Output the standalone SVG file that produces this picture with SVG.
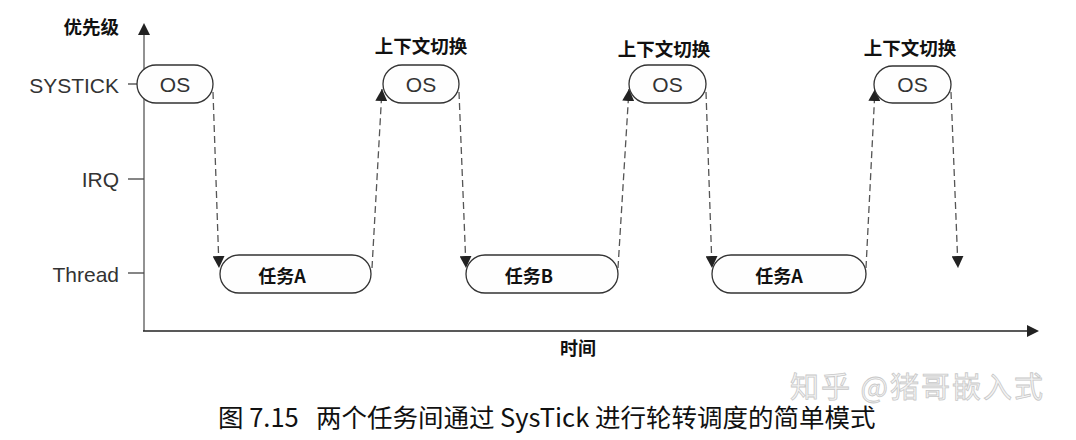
<svg xmlns="http://www.w3.org/2000/svg" width="1076" height="440" viewBox="0 0 1076 440">
<style>
.lbl{font-family:"Liberation Sans",Arial,sans-serif;font-size:21px;fill:#333;}
.cjkb{font-family:"Noto Sans CJK SC","Noto Sans",sans-serif;font-weight:bold;fill:#111;}
.box{fill:#fefefe;stroke:#333;stroke-width:1.3;}
.os{font-family:"Liberation Sans",Arial,sans-serif;font-size:21px;fill:#333;text-anchor:middle;}
.task{font-family:"Noto Sans CJK SC","Noto Sans",sans-serif;font-weight:bold;font-size:18px;fill:#111;text-anchor:middle;}
.dash{stroke:#555;stroke-width:1.3;stroke-dasharray:7 4;fill:none;marker-end:url(#ah);}
.tick{stroke:#444;stroke-width:1.3;}
</style>
<defs>
<marker id="ah" markerUnits="userSpaceOnUse" markerWidth="12" markerHeight="12" viewBox="0 0 10 10" refX="10" refY="5" orient="auto">
<path d="M0,0 L10,5 L0,10 z" fill="#222"/>
</marker>
</defs>
<rect width="1076" height="440" fill="#fff"/>
<g id="axes">
<line x1="144" y1="331" x2="144" y2="32" stroke="#777" stroke-width="1.6"/>
<path d="M138,35 L144,23 L150,35 z" fill="#222"/>
<line x1="143" y1="331" x2="1030" y2="331" stroke="#222" stroke-width="1.5"/>
<path d="M1027,325 L1039,331 L1027,337 z" fill="#222"/>
<line class="tick" x1="128" y1="84" x2="144" y2="84"/>
<line class="tick" x1="128" y1="179" x2="144" y2="179"/>
<line class="tick" x1="128" y1="273" x2="144" y2="273"/>
<text class="cjkb" x="119" y="34" font-size="18.5" text-anchor="end">优先级</text>
<text class="lbl" x="119" y="93" text-anchor="end">SYSTICK</text>
<text class="lbl" x="119" y="187" text-anchor="end">IRQ</text>
<text class="lbl" x="119" y="282" text-anchor="end">Thread</text>
<text class="cjkb" x="578" y="355" font-size="18" text-anchor="middle">时间</text>
</g>
<g id="connectors">
<line class="dash" x1="213" y1="92" x2="219" y2="268"/>
<line class="dash" x1="372" y1="268" x2="382" y2="89"/>
<line class="dash" x1="459" y1="92" x2="466" y2="268"/>
<line class="dash" x1="618" y1="268" x2="629" y2="89"/>
<line class="dash" x1="706" y1="92" x2="712" y2="268"/>
<line class="dash" x1="866" y1="268" x2="875" y2="89"/>
<line class="dash" x1="951" y1="92" x2="958" y2="268"/>
</g>
<g id="os1"><rect class="box" x="137" y="65" width="76" height="38" rx="19"/><text class="os" x="175" y="92">OS</text></g>
<g id="os2"><rect class="box" x="383" y="65" width="76" height="38" rx="19"/><text class="os" x="421" y="92">OS</text>
<text class="cjkb" x="421" y="53" font-size="18.5" text-anchor="middle">上下文切换</text></g>
<g id="os3"><rect class="box" x="629" y="65" width="77" height="38" rx="19"/><text class="os" x="667.5" y="92">OS</text>
<text class="cjkb" x="664" y="56" font-size="18.5" text-anchor="middle">上下文切换</text></g>
<g id="os4"><rect class="box" x="874" y="66" width="77" height="37" rx="18.5"/><text class="os" x="912.5" y="92">OS</text>
<text class="cjkb" x="910" y="55" font-size="18.5" text-anchor="middle">上下文切换</text></g>
<g id="taskA1"><rect class="box" x="220" y="255" width="151" height="38" rx="19"/><text class="task" x="282" y="283">任务A</text></g>
<g id="taskB"><rect class="box" x="466" y="255" width="152" height="38" rx="19"/><text class="task" x="529" y="283">任务B</text></g>
<g id="taskA2"><rect class="box" x="712" y="255" width="154" height="38" rx="19"/><text class="task" x="779" y="283">任务A</text></g>
<g id="caption">
<text x="1045" y="398" text-anchor="end" font-family="Noto Sans CJK SC,sans-serif" font-size="29" letter-spacing="2" fill="#f4f4f4" stroke="#c8c8c8" stroke-width="0.8">知乎 @猪哥嵌入式</text>
<text x="218" y="427" font-family="Noto Sans CJK SC,sans-serif" font-size="25.5" fill="#111" style="white-space:pre">图 7.15   两个任务间通过 SysTick 进行轮转调度的简单模式</text>
</g>
</svg>
